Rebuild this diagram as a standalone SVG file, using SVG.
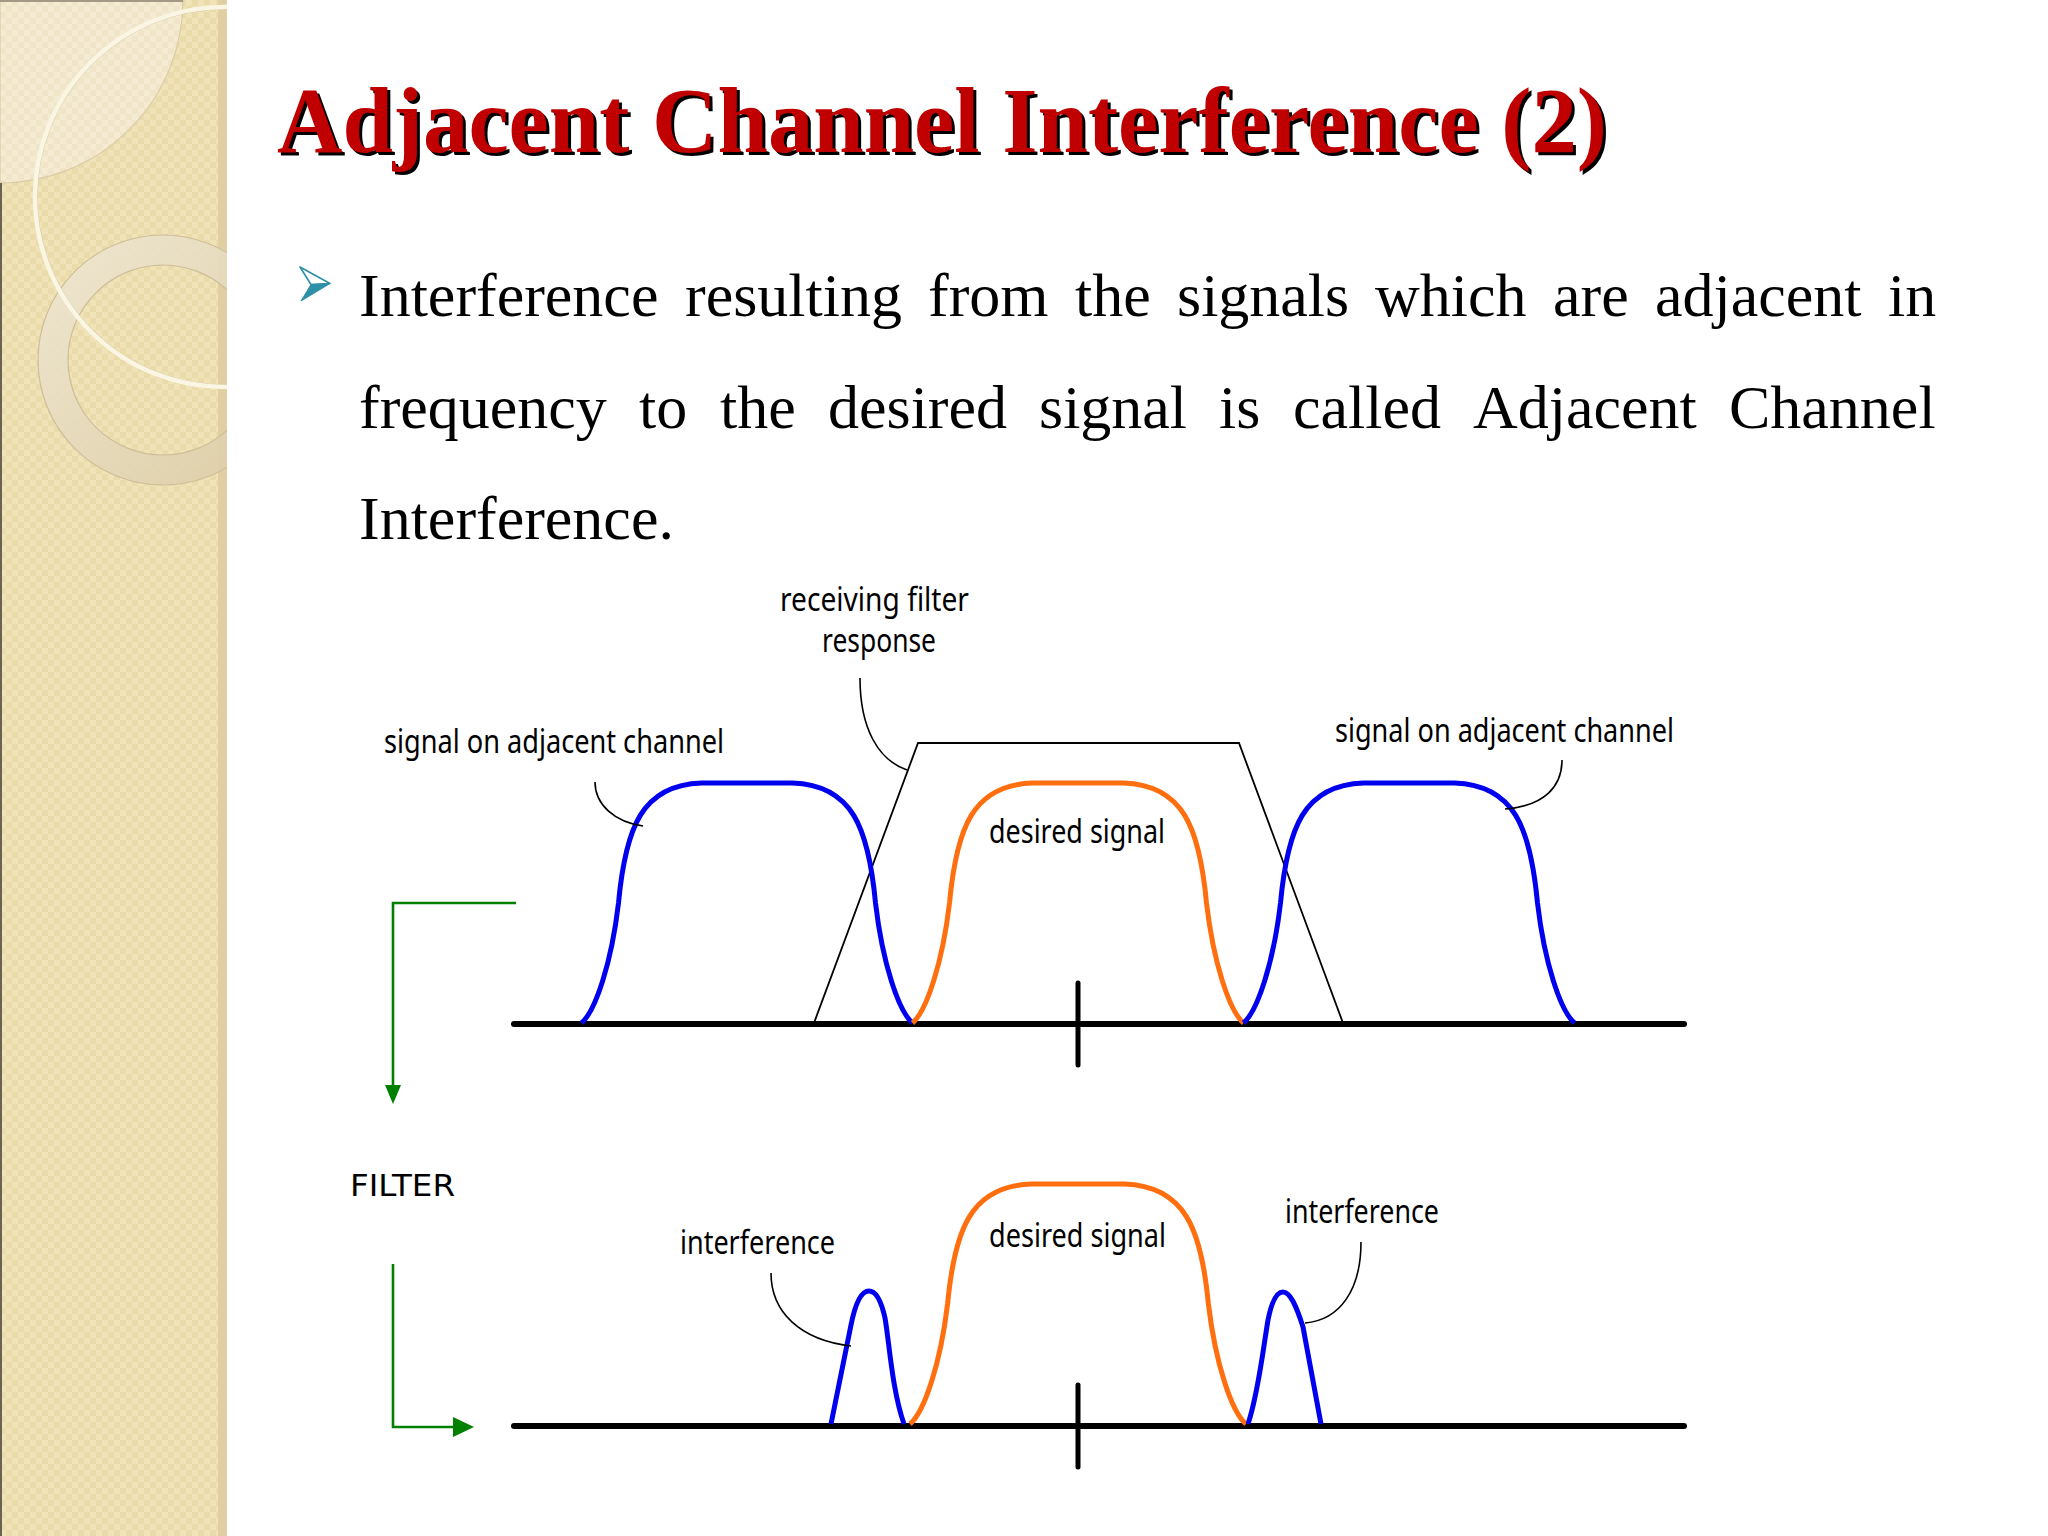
<svg xmlns="http://www.w3.org/2000/svg" width="2048" height="1536" viewBox="0 0 2048 1536">
  <defs>
    <pattern id="checker" x="0" y="0" width="12" height="12" patternUnits="userSpaceOnUse">
      <rect width="12" height="12" fill="#F1E3B8"/>
      <rect width="6" height="6" fill="#EADBAA"/>
      <rect x="6" y="6" width="6" height="6" fill="#EADBAA"/>
    </pattern>
    <pattern id="checkerLight" x="0" y="0" width="12" height="12" patternUnits="userSpaceOnUse">
      <rect width="12" height="12" fill="#F4EBD2"/>
      <rect width="6" height="6" fill="#F0E5C8"/>
      <rect x="6" y="6" width="6" height="6" fill="#F0E5C8"/>
    </pattern>
    <linearGradient id="ringGrad" x1="0" y1="0" x2="1" y2="1">
      <stop offset="0" stop-color="#EEE6D2"/>
      <stop offset="1" stop-color="#DCCDA6"/>
    </linearGradient>
    <clipPath id="bandClip">
      <rect x="0" y="0" width="227" height="1536"/>
    </clipPath>
    <path id="sig" d="M0,0 C14,-12 30,-60 37,-120 C44,-195 60,-238 120,-240 L211,-240 C271,-238 287,-195 294,-120 C301,-60 317,-12 331,0"/>
  </defs>
  <style>
    .body { font-family: "Liberation Serif", "Times New Roman", serif; font-size: 62px; fill: #000; }
    .title { font-family: "Liberation Serif", "Times New Roman", serif; font-size: 93px; font-weight: bold; }
    .lbl { font-family: "Noto Sans", "DejaVu Sans", sans-serif; font-size: 33px; fill: #000; }
    .axis { stroke: #000; stroke-width: 6; stroke-linecap: round; fill: none; }
    .tick { stroke: #000; stroke-width: 5; stroke-linecap: round; fill: none; }
    .blue { stroke: #0000EE; stroke-width: 5; fill: none; stroke-linejoin: round; }
    .orange { stroke: #FF6F0F; stroke-width: 5; fill: none; stroke-linejoin: round; }
    .leader { stroke: #000; stroke-width: 1.6; fill: none; }
    .green { stroke: #008000; stroke-width: 2.6; fill: none; }
  </style>

  <rect x="0" y="0" width="2048" height="1536" fill="#FFFFFF"/>

  <g id="side-band" clip-path="url(#bandClip)">
    <rect x="0" y="0" width="227" height="1536" fill="url(#checker)"/>
    <path d="M0,0 L183,0 A183,183 0 0 1 0,183 Z" fill="url(#checkerLight)" stroke="#D9CCA6" stroke-width="1.2"/>
    <rect x="218" y="0" width="9" height="1536" fill="#DFCFA2"/>
    <circle cx="163" cy="360" r="110" fill="none" stroke="url(#ringGrad)" stroke-width="30" opacity="0.9"/>
    <circle cx="163" cy="360" r="125" fill="none" stroke="#CDBE98" stroke-width="1.2"/>
    <circle cx="163" cy="360" r="95" fill="none" stroke="#CDBE98" stroke-width="1.2"/>
    <circle cx="225" cy="197" r="188" fill="none" stroke="#CFC3A0" stroke-width="1.2"/>
    <circle cx="225" cy="197" r="190" fill="none" stroke="#FBF6E4" stroke-width="4.5"/>
    <line x1="1" y1="183" x2="1" y2="1536" stroke="#6B6250" stroke-width="2"/>
    <line x1="0" y1="1" x2="183" y2="1" stroke="#8A8270" stroke-width="1.5"/>
  </g>

  <g id="title">
    <text class="title" x="280" y="155" fill="#000" textLength="1330" lengthAdjust="spacingAndGlyphs">Adjacent Channel Interference (2)</text>
    <text class="title" x="277" y="152" fill="#C00000" textLength="1330" lengthAdjust="spacingAndGlyphs">Adjacent Channel Interference (2)</text>
  </g>

  <g id="bullet">
    <path d="M300,267 L330,283.5 L311,284.5 Z" fill="#FFFFFF" stroke="#2E90A8" stroke-width="1.6" stroke-linejoin="round"/>
    <path d="M311,284.5 L330,283.5 L301,301 Z" fill="#2E90A8" stroke="#2E90A8" stroke-width="1" stroke-linejoin="round"/>
  </g>

  <g id="body-text">
    <text class="body" y="316"><tspan x="359">Interference</tspan><tspan x="685">resulting</tspan><tspan x="928">from</tspan><tspan x="1075">the</tspan><tspan x="1177">signals</tspan><tspan x="1375">which</tspan><tspan x="1553">are</tspan><tspan x="1655">adjacent</tspan><tspan x="1888">in</tspan></text>
    <text class="body" y="428"><tspan x="359">frequency</tspan><tspan x="639">to</tspan><tspan x="720">the</tspan><tspan x="828">desired</tspan><tspan x="1039">signal</tspan><tspan x="1219">is</tspan><tspan x="1293">called</tspan><tspan x="1473">Adjacent</tspan><tspan x="1729">Channel</tspan></text>
    <text class="body" x="359" y="539">Interference.</text>
  </g>

  <g id="top-axis">
    <line class="axis" x1="514" y1="1024" x2="1684" y2="1024"/>
    <line class="tick" x1="1078" y1="983" x2="1078" y2="1065"/>
  </g>

  <g id="filter-response">
    <path d="M814,1023 L918,743 L1239,743 L1343,1023" fill="none" stroke="#000" stroke-width="1.8" stroke-linejoin="miter"/>
  </g>

  <g id="top-signal-left">
    <use href="#sig" class="blue" transform="translate(581.5,1023)"/>
  </g>
  <g id="top-desired-signal">
    <use href="#sig" class="orange" transform="translate(912.5,1023)"/>
  </g>
  <g id="top-signal-right">
    <use href="#sig" class="blue" transform="translate(1243.5,1023)"/>
  </g>

  <g id="bottom-axis">
    <line class="axis" x1="514" y1="1426" x2="1684" y2="1426"/>
    <line class="tick" x1="1078" y1="1385" x2="1078" y2="1467"/>
  </g>

  <g id="bottom-desired-signal">
    <use href="#sig" class="orange" transform="translate(910,1424) scale(1.015,1)"/>
  </g>
  <g id="interference-left">
    <path class="blue" d="M831,1424 L851,1325 C856,1300 862,1291 869,1291 C876,1291 881,1300 885,1318 C889,1340 892,1390 904,1424"/>
  </g>
  <g id="interference-right">
    <path class="blue" d="M1248,1424 C1258,1395 1263,1350 1268,1320 C1272,1300 1277,1292 1283,1292 C1290,1292 1296,1305 1303,1327 L1321,1424"/>
  </g>

  <g id="labels">
    <text class="lbl" x="780" y="611" font-size="28" textLength="189" lengthAdjust="spacingAndGlyphs">receiving filter</text>
    <text class="lbl" x="822" y="652" font-size="28" textLength="114" lengthAdjust="spacingAndGlyphs">response</text>
    <text class="lbl" x="384" y="753" textLength="340" lengthAdjust="spacingAndGlyphs">signal on adjacent channel</text>
    <text class="lbl" x="1335" y="742" textLength="339" lengthAdjust="spacingAndGlyphs">signal on adjacent channel</text>
    <text class="lbl" x="989" y="843" textLength="176" lengthAdjust="spacingAndGlyphs">desired signal</text>
    <text class="lbl" x="989" y="1247" textLength="177" lengthAdjust="spacingAndGlyphs">desired signal</text>
    <text class="lbl" x="680" y="1254" textLength="155" lengthAdjust="spacingAndGlyphs">interference</text>
    <text class="lbl" x="1285" y="1223" textLength="154" lengthAdjust="spacingAndGlyphs">interference</text>
    <text x="350" y="1196" font-family="DejaVu Sans, sans-serif" font-size="31" fill="#000" textLength="105" lengthAdjust="spacingAndGlyphs">FILTER</text>
  </g>

  <g id="connectors">
    <path class="leader" d="M860,678 C860,728 878,760 907,770"/>
    <path class="leader" d="M595,782 C595,805 615,822 643,826"/>
    <path class="leader" d="M1562,760 C1562,786 1545,806 1505,809"/>
    <path class="leader" d="M771,1273 C771,1312 800,1340 851,1346"/>
    <path class="leader" d="M1361,1242 C1361,1290 1340,1320 1305,1323"/>
    <path class="green" d="M516,903 L393,903 L393,1088"/>
    <path d="M385,1085 L401,1085 L393,1104 Z" fill="#008000"/>
    <path class="green" d="M393,1264 L393,1427 L456,1427"/>
    <path d="M453,1417 L474,1427 L453,1437 Z" fill="#008000"/>
  </g>
</svg>
